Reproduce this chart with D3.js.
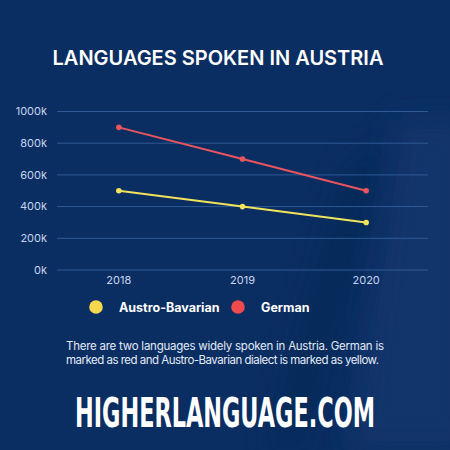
<!DOCTYPE html>
<html>
	<head>
		<style>
			body, html { margin: 0; padding: 0; background: #0b2e62; }
			text { font-family: Inter, "Open Sans", sans-serif; }
			.grid line { stroke: #2f5a96; stroke-width: 1px; }
			.tick-label { fill: #c6d4ee; font-size: 11px; }
		</style>
	</head>
	<body>
		<svg id="svg" width="450" height="450"></svg>

		<script src="https://d3js.org/d3.v7.min.js"></script>
		<script>
			// Data
			const years = ['2018', '2019', '2020']
			const german = [900000, 700000, 500000]
			const austroBavarian = [500000, 400000, 300000]
			const yTicks = [0, 200000, 400000, 600000, 800000, 1000000]
			const seriesNames = ['Austro-Bavarian', 'German']

			const svg = d3.select('#svg')

			// background with a faint, soft diagonal band
			const defs = svg.append('defs')
			defs.append('filter')
				.attr('id', 'soft')
				.attr('x', '-50%').attr('y', '-50%').attr('width', '200%').attr('height', '200%')
				.append('feGaussianBlur')
				.attr('stdDeviation', 14)

			svg.append('rect').attr('width', 450).attr('height', 450).attr('fill', '#0b2e62')
			svg.append('polygon')
				.attr('points', '395,120 470,120 470,450 350,450')
				.attr('fill', '#12386f')
				.attr('opacity', 0.7)
				.attr('filter', 'url(#soft)')
			svg.append('polygon')
				.attr('points', '345,170 385,140 345,300 300,450 270,450')
				.attr('fill', '#062550')
				.attr('opacity', 0.55)
				.attr('filter', 'url(#soft)')

			// title
			svg.append('text')
				.attr('x', 218)
				.attr('y', 65)
				.attr('text-anchor', 'middle')
				.attr('fill', '#ffffff')
				.style('font-size', '20px')
				.style('font-weight', 600)
				.text('LANGUAGES SPOKEN IN AUSTRIA')

			// scales
			const x = d3.scalePoint()
				.domain(years)
				.range([57, 428])
				.padding(0.5)

			const y = d3.scaleLinear()
				.domain([0, 1000000])
				.range([270, 111.5])

			// gridlines
			const grid = svg.append('g').attr('class', 'grid')
			grid.selectAll('line')
				.data(yTicks)
				.enter().append('line')
				.attr('x1', 57).attr('x2', 428)
				.attr('y1', d => y(d)).attr('y2', d => y(d))

			// y labels
			svg.append('g').selectAll('text')
				.data(yTicks)
				.enter().append('text')
				.attr('class', 'tick-label')
				.attr('x', 47)
				.attr('y', d => y(d))
				.attr('dy', '0.35em')
				.attr('text-anchor', 'end')
				.text(d => (d / 1000) + 'k')

			// x labels
			svg.append('g').selectAll('text')
				.data(years)
				.enter().append('text')
				.attr('class', 'tick-label')
				.attr('x', d => x(d))
				.attr('y', 284)
				.attr('text-anchor', 'middle')
				.text(d => d)

			// lines
			const line = d3.line()
				.x((d, i) => x(years[i]))
				.y(d => y(d))

			const series = [
				{ name: 'German', values: german, color: '#e9545f' },
				{ name: 'Austro-Bavarian', values: austroBavarian, color: '#f1e35a' }
			]

			series.forEach(s => {
				svg.append('path')
					.attr('d', line(s.values))
					.attr('fill', 'none')
					.attr('stroke', s.color)
					.attr('stroke-width', 2)
				svg.append('g').selectAll('circle')
					.data(s.values)
					.enter().append('circle')
					.attr('cx', (d, i) => x(years[i]))
					.attr('cy', d => y(d))
					.attr('r', 2.8)
					.attr('fill', s.color)
			})

			// legend
			const legendColors = ['#f6d84c', '#ef4a4d']
			const legendX = [96, 238]
			const legend = svg.append('g').selectAll('g')
				.data(seriesNames)
				.enter().append('g')
				.attr('transform', (d, i) => `translate(${legendX[i]},307)`)
			legend.append('circle')
				.attr('r', 6.8)
				.attr('fill', (d, i) => legendColors[i])
			legend.append('text')
				.attr('x', 23)
				.attr('dy', '0.36em')
				.attr('fill', '#ffffff')
				.style('font-size', '12.5px')
				.style('font-weight', 700)
				.text(d => d)

			// description
			const para = [
				'There are two languages widely spoken in Austria. German is',
				'marked as red and Austro-Bavarian dialect is marked as yellow.'
			]
			svg.append('g').selectAll('text')
				.data(para)
				.enter().append('text')
				.attr('x', 66)
				.attr('y', (d, i) => 349.5 + i * 14.6)
				.attr('fill', '#e3eaf7')
				.style('font-size', '11.5px')
				.attr('textLength', (d, i) => i === 0 ? 318 : 313)
				.attr('lengthAdjust', 'spacing')
				.text(d => d)

			// site name: condensed look by stretching a smaller font vertically
			svg.append('text')
				.attr('transform', 'translate(75,427) scale(1,1.6)')
				.attr('fill', '#ffffff')
				.attr('textLength', 300)
				.attr('lengthAdjust', 'spacingAndGlyphs')
				.style('font-family', '"DejaVu Sans Condensed", "DejaVu Sans", sans-serif')
				.style('font-size', '26px')
				.style('font-weight', 700)
				.text('HIGHERLANGUAGE.COM')
		</script>
	</body>
</html>
